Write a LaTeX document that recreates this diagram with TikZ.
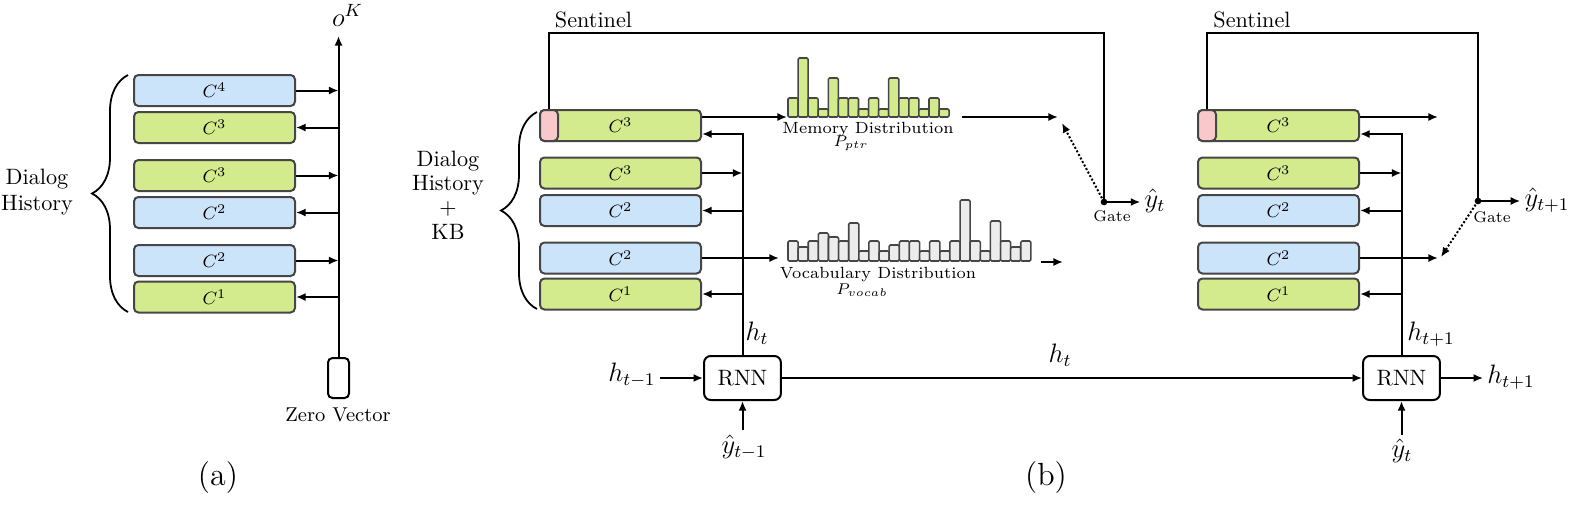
\documentclass[tikz,border=0pt]{standalone}
\usetikzlibrary{arrows.meta,decorations.pathreplacing,calc}
\definecolor{gfill}{RGB}{212,235,141}
\definecolor{bfill}{RGB}{204,228,250}
\definecolor{pfill}{RGB}{248,200,202}
\definecolor{bord}{RGB}{70,70,70}
\definecolor{barg}{RGB}{236,236,236}
\begin{document}
\begin{tikzpicture}[x=0.45pt,y=-0.45pt,
  line width=0.9pt,
  arr/.style={draw=black,line width=0.9pt,-{Latex[length=4.3pt,width=3.6pt]}},
  ln/.style={draw=black,line width=0.9pt},
  mem/.style={draw=bord,line width=0.9pt,rounded corners=2pt,minimum width=72.45pt,minimum height=13.95pt,inner sep=0pt,font=\footnotesize},
  gbox/.style={mem,fill=gfill},
  bbox/.style={mem,fill=bfill},
  pbox/.style={draw=bord,line width=0.9pt,rounded corners=2pt,fill=pfill,minimum width=8.1pt,minimum height=13.95pt,inner sep=0pt},
  mbar/.style={draw=bord,line width=0.7pt,fill=gfill,rounded corners=0.6pt},
  vbar/.style={draw=bord,line width=0.7pt,fill=barg,rounded corners=0.6pt},
  rnn/.style={draw=black,line width=0.9pt,rounded corners=3pt,minimum width=34.6pt,minimum height=19.8pt,inner sep=0pt},
  zvec/.style={draw=black,line width=0.9pt,rounded corners=2pt,minimum width=9.45pt,minimum height=18pt,inner sep=0pt},
  gdot/.style={circle,fill=black,inner sep=0pt,minimum size=3pt},
  lbl/.style={inner sep=1.5pt},
  distlbl/.style={font=\fontsize{7.3}{9}\selectfont,anchor=base,inner sep=0pt},
  dots/.style={draw=black,line width=0.9pt,dash pattern=on 0.9pt off 0.9pt,-{Latex[length=4.3pt,width=3.6pt]}},
  brc/.style={draw=black,line width=0.8pt,decorate,decoration={brace,amplitude=16.2pt,aspect=0.5}},
]
\useasboundingbox (0,0) rectangle (1574,506);

% ---------------- (a) ----------------
\node[bbox] (a1) at (214.5,90.5) {$C^4$};
\node[gbox] (a2) at (214.5,127.5) {$C^3$};
\node[gbox] (a3) at (214.5,175.5) {$C^3$};
\node[bbox] (a4) at (214.5,212.5) {$C^2$};
\node[bbox] (a5) at (214.5,260.5) {$C^2$};
\node[gbox] (a6) at (214.5,297) {$C^1$};
\node[zvec] (zv) at (338.5,378) {};
\node[font=\small,anchor=base,inner sep=0pt] (zvl) at (338,421.5) {Zero Vector};
\node[font=\large,anchor=south,inner sep=4pt] (oK) at (347.5,36) {$o^K$};
\draw[arr] (zv.north) -- (zv.north |- oK.south);
\draw[arr] (a1.east) -- (a1.east -| zv.north);
\draw[arr] (a2.east -| zv.north) -- (a2.east);
\draw[arr] (a3.east) -- (a3.east -| zv.north);
\draw[arr] (a4.east -| zv.north) -- (a4.east);
\draw[arr] (a5.east) -- (a5.east -| zv.north);
\draw[arr] (a6.east -| zv.north) -- (a6.east);
\draw[brc] (128,312) -- (128,75);
\node[align=center,inner sep=0pt] (dh1) at (37,192) {Dialog\\History};
\node[font=\Large] (la) at (218,478) {(a)};

% ---------------- (b) left ----------------
\node[gbox] (b1) at (620.5,125.5) {$C^3$};
\node[pbox] (p1) at (549,125.5) {};
\node[gbox] (b2) at (620.5,173) {$C^3$};
\node[bbox] (b3) at (620.5,210.5) {$C^2$};
\node[bbox] (b4) at (620.5,258) {$C^2$};
\node[gbox] (b5) at (620.5,294) {$C^1$};
\draw[brc] (537,309) -- (537,112);
\node[align=center,inner sep=0pt] (dh2) at (448,195) {Dialog\\[-1pt]History\\[-1pt]$+$\\[-1pt]KB};
\node[anchor=base,inner sep=0pt] (s1) at (593.5,27) {Sentinel};

\node[rnn] (r1) at (742.5,378) {RNN};
\node[rnn] (r2) at (1401.5,378) {RNN};

\coordinate (top) at (0,33);
\coordinate (m1) at (787,117);
\coordinate (in1) at (743,134);
\coordinate (v1) at (779,258);
\draw[arr] (b1.east |- m1) -- (m1);
\draw[arr] (r1.north) |- (b1.east |- in1);
\draw[arr] (b2.east) -- (b2.east -| r1.north);
\draw[arr] (b3.east -| r1.north) -- (b3.east);
\draw[arr] (b4.east) -- (v1);
\draw[arr] (b5.east -| r1.north) -- (b5.east);

% memory distribution
\foreach \h [count=\i from 0] in {19,59,19,8,39,19,19,8,19,8,39,19,19,8,19,8}
  \draw[mbar] ({788+\i*10.07},117) rectangle ++(10.07,-\h);
\node[distlbl] (mdl) at (868,133) {Memory Distribution};
\node[font=\scriptsize,anchor=base,inner sep=0pt] (mdp) at (851,146) {$P_{ptr}$};
% vocabulary distribution
\foreach \h [count=\i from 0] in {20,14,20,28,24,20,38,10,20,10,16,20,20,10,20,10,20,61,20,10,40,20,14,20}
  \draw[vbar] ({788+\i*10.12},261) rectangle ++(10.12,-\h);
\node[distlbl] (vdl) at (878,278) {Vocabulary Distribution};
\node[font=\scriptsize,anchor=base,inner sep=0pt] (vdp) at (862,294) {$P_{vocab}$};

\coordinate (m2) at (962,117);
\coordinate (m3) at (1058,117);
\draw[arr] (m2) -- (m3);
\coordinate (v2) at (1041,262);
\coordinate (v3) at (1063,262);
\draw[arr] (v2) -- (v3);

\node[gdot] (g1) at (1104,202) {};
\coordinate (d1) at (1062,123);
\draw[dots] (g1) -- (d1);
\draw[ln] (p1.north) -- (p1.north |- top) -| (g1.center);
\node[font=\scriptsize,inner sep=0pt] (gl1) at (1112,216) {Gate};
\node[lbl,font=\large] (yt) at (1155,201) {$\hat y_t$};
\draw[arr] (g1.center) -- (g1.center -| yt.west);

\node[lbl,font=\large] (hm1) at (632,375) {$h_{t-1}$};
\draw[arr] (hm1.east |- r1.west) -- (r1.west);
\node[lbl,font=\large] (yb1) at (744,447) {$\hat y_{t-1}$};
\draw[arr] (r1.south |- yb1.north) -- (r1.south);
\node[lbl,font=\large] (ht1) at (757,333) {$h_t$};
\node[lbl,font=\large] (ht2) at (1060,355) {$h_t$};
\draw[arr] (r1.east) -- (r2.west);
\node[font=\Large] (lb) at (1046,478) {(b)};

% ---------------- (b) right ----------------
\node[gbox] (c1) at (1278.5,125.5) {$C^3$};
\node[pbox] (q1) at (1207,125.5) {};
\node[gbox] (c2) at (1278.5,173) {$C^3$};
\node[bbox] (c3) at (1278.5,210.5) {$C^2$};
\node[bbox] (c4) at (1278.5,258) {$C^2$};
\node[gbox] (c5) at (1278.5,294) {$C^1$};
\node[anchor=base,inner sep=0pt] (s2) at (1252,27) {Sentinel};

\coordinate (m4) at (1438,117);
\coordinate (in2) at (1402,134);
\coordinate (v4) at (1438,258);
\draw[arr] (c1.east |- m4) -- (m4);
\draw[arr] (r2.north) |- (c1.east |- in2);
\draw[arr] (c2.east) -- (c2.east -| r2.north);
\draw[arr] (c3.east -| r2.north) -- (c3.east);
\draw[arr] (c4.east) -- (v4);
\draw[arr] (c5.east -| r2.north) -- (c5.east);

\node[gdot] (g2) at (1478,201) {};
\coordinate (d2) at (1441,257);
\draw[dots] (g2) -- (d2);
\draw[ln] (q1.north) -- (q1.north |- top) -| (g2.center);
\node[font=\scriptsize,inner sep=0pt] (gl2) at (1492,217) {Gate};
\node[lbl,font=\large] (yt1) at (1547,200) {$\hat y_{t+1}$};
\draw[arr] (g2.center) -- (g2.center -| yt1.west);

\node[lbl,font=\large] (hp0) at (1431,334) {$h_{t+1}$};
\node[lbl,font=\large] (hp1) at (1511,377) {$h_{t+1}$};
\draw[arr] (r2.east) -- (r2.east -| hp1.west);
\node[lbl,font=\large] (yb2) at (1402,451) {$\hat y_t$};
\draw[arr] (r2.south |- yb2.north) -- (r2.south);
\end{tikzpicture}
\end{document}
